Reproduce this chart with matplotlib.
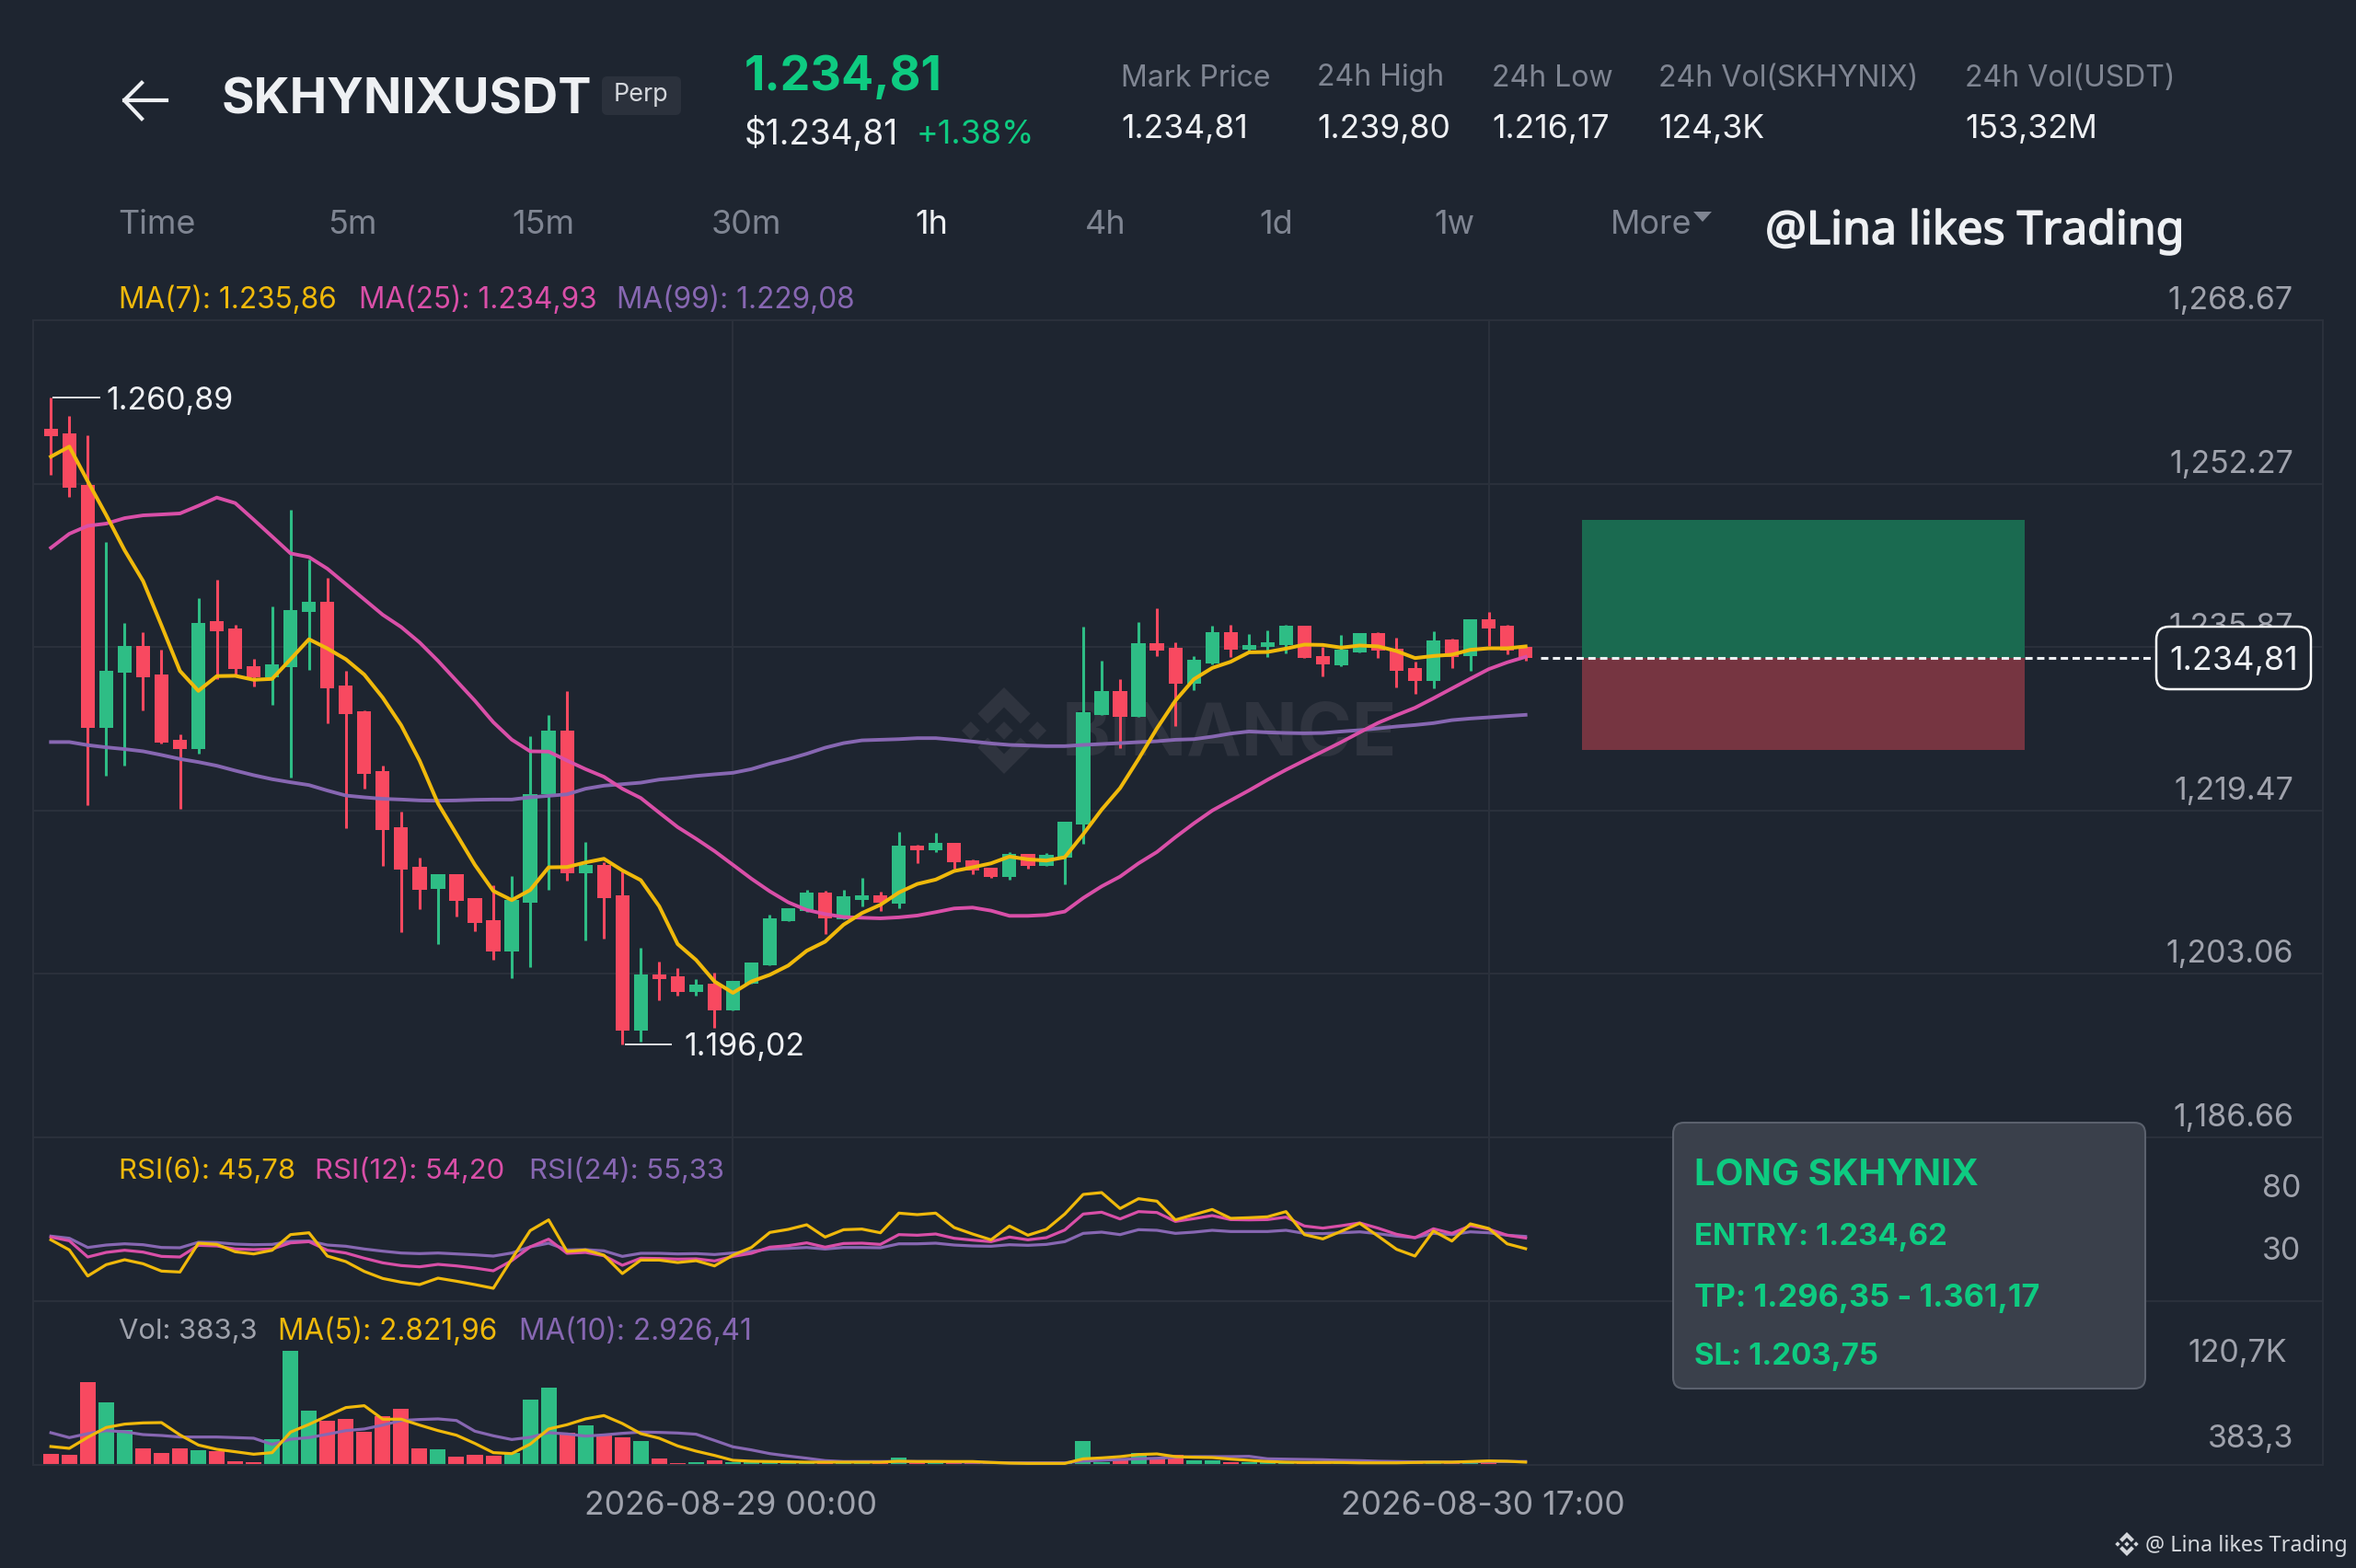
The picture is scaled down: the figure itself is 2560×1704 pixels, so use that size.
#!/usr/bin/env python

import numpy as np
import matplotlib
matplotlib.use('Agg')
import matplotlib.pyplot as plt
import matplotlib.patheffects as pe
from matplotlib.patches import FancyBboxPatch, Polygon, Rectangle

# ========================Candles==============================
opens = [1257.79,1257.33,1252.18,1227.78,1233.30,1236.01,1233.11,1226.52,1225.66,1238.47,
         1237.76,1233.98,1232.80,1233.88,1239.37,1240.44,1232.03,1229.39,1223.38,1217.77,
         1213.79,1211.57,1213.05,1210.71,1208.46,1205.35,1210.19,1221.09,1227.53,1213.15,
         1214.01,1210.96,1197.37,1202.98,1202.86,1201.29,1202.05,1199.44,1202.09,1203.90,
         1208.40,1209.38,1211.23,1208.58,1210.52,1210.95,1210.15,1215.91,1215.48,1216.22,
         1214.50,1213.70,1212.80,1215.14,1213.88,1214.77,1218.07,1229.04,1231.50,1228.85,
         1236.25,1235.82,1232.24,1234.24,1237.36,1235.60,1235.85,1236.06,1238.03,1235.01,
         1234.06,1235.35,1237.29,1235.75,1233.78,1232.46,1236.59,1234.95,1238.68,1238.03,1235.88]
highs = [1260.89,1259.08,1257.17,1246.42,1238.26,1237.33,1235.58,1227.14,1240.75,1242.66,
         1238.10,1234.65,1239.95,1249.69,1244.67,1242.85,1233.48,1229.48,1224.02,1219.37,
         1214.75,1213.05,1213.05,1210.71,1212.01,1212.93,1226.89,1229.07,1231.48,1216.29,
         1214.32,1213.39,1205.69,1204.30,1203.69,1202.52,1203.16,1202.36,1204.21,1208.98,
         1209.69,1211.54,1211.39,1211.51,1212.68,1211.32,1217.30,1216.07,1217.21,1216.22,
         1214.56,1213.73,1215.33,1215.14,1215.17,1218.35,1237.97,1234.55,1232.70,1238.40,
         1239.79,1236.31,1234.95,1238.00,1238.13,1237.17,1237.60,1238.09,1238.03,1235.88,
         1237.11,1237.29,1237.39,1236.80,1234.37,1237.42,1236.71,1238.71,1239.36,1238.09,1235.88]
lows = [1253.14,1250.92,1220.02,1222.92,1224.02,1229.48,1226.15,1219.62,1225.13,1232.62,
        1233.11,1231.94,1230.03,1222.79,1233.61,1228.25,1217.71,1221.62,1213.89,1207.23,
        1209.54,1206.06,1208.86,1207.38,1204.46,1202.67,1203.75,1211.54,1212.41,1206.43,
        1206.61,1196.02,1196.30,1200.39,1200.88,1200.91,1197.68,1199.44,1202.09,1203.90,
        1208.40,1209.32,1207.04,1208.58,1209.88,1209.35,1209.66,1214.19,1215.33,1213.63,
        1213.11,1212.71,1212.53,1213.67,1213.88,1212.06,1216.16,1229.04,1225.77,1228.85,
        1234.98,1227.99,1231.59,1234.12,1234.89,1235.41,1234.89,1235.20,1234.77,1232.95,
        1233.97,1235.35,1234.74,1231.81,1231.19,1231.69,1233.81,1233.50,1236.00,1235.11,1234.49]
closes = [1257.05,1251.91,1227.75,1233.48,1235.95,1232.87,1226.27,1225.66,1238.32,1237.49,
          1233.67,1232.80,1234.13,1239.61,1240.44,1231.76,1229.11,1223.13,1217.49,1213.55,
          1211.54,1213.05,1210.40,1208.19,1205.35,1210.47,1221.09,1227.53,1213.15,1214.01,
          1210.71,1197.37,1203.01,1202.58,1201.29,1202.02,1199.41,1202.36,1204.21,1208.67,
          1209.69,1211.23,1208.67,1210.86,1210.95,1210.21,1215.91,1215.48,1216.22,1214.25,
          1213.45,1212.77,1215.14,1213.88,1215.05,1218.35,1229.32,1231.50,1228.85,1236.25,
          1235.54,1232.24,1234.58,1237.36,1235.63,1236.09,1236.34,1238.03,1234.77,1234.15,
          1235.63,1237.29,1235.54,1233.47,1232.43,1236.55,1234.89,1238.71,1237.76,1235.51,1234.81]

ma7 = [1254.99,1256.00,1252.52,1249.13,1245.59,1242.51,1238.04,1233.48,1231.48,1232.96,
       1232.99,1232.59,1232.68,1234.65,1236.66,1235.73,1234.65,1233.11,1230.80,1228.03,
       1224.48,1220.17,1217.09,1214.01,1211.39,1210.47,1211.48,1213.76,1213.79,1214.25,
       1214.62,1213.45,1212.47,1209.85,1206.06,1204.46,1202.30,1201.16,1202.30,1202.97,
       1203.90,1205.38,1206.30,1208.00,1209.17,1210.00,1211.23,1212.09,1212.53,1213.39,
       1213.76,1214.16,1214.84,1214.56,1214.44,1214.77,1217.08,1219.55,1221.71,1224.63,
       1227.71,1230.49,1232.64,1233.78,1234.40,1235.35,1235.38,1235.72,1236.12,1236.09,
       1235.82,1236.03,1235.94,1235.48,1234.77,1234.98,1235.11,1235.60,1235.75,1235.75,1235.94]
ma25 = [1245.84,1247.25,1248.05,1248.27,1248.82,1249.10,1249.19,1249.29,1250.06,1250.89,
        1250.33,1248.67,1246.98,1245.28,1244.91,1243.74,1242.20,1240.66,1239.12,1237.89,
        1236.34,1234.49,1232.49,1230.49,1228.33,1226.58,1225.41,1225.38,1224.48,1223.62,
        1222.85,1221.65,1220.72,1219.25,1217.80,1216.63,1215.39,1214.01,1212.62,1211.35,
        1210.25,1209.48,1209.07,1208.77,1208.70,1208.64,1208.74,1208.92,1209.26,1209.63,
        1209.72,1209.41,1208.89,1208.89,1208.98,1209.32,1210.68,1211.85,1212.83,1214.16,
        1215.30,1216.78,1218.17,1219.46,1220.48,1221.49,1222.55,1223.55,1224.48,1225.40,
        1226.33,1227.31,1228.27,1229.04,1229.78,1230.73,1231.72,1232.70,1233.66,1234.34,1234.89]
ma99 = [1226.34,1226.34,1226.03,1225.81,1225.63,1225.41,1225.04,1224.64,1224.33,1223.96,
        1223.47,1223.01,1222.61,1222.30,1222.02,1221.47,1220.97,1220.79,1220.64,1220.57,
        1220.48,1220.45,1220.48,1220.54,1220.57,1220.57,1220.79,1220.94,1221.09,1221.65,
        1221.96,1222.11,1222.26,1222.57,1222.73,1222.94,1223.10,1223.25,1223.62,1224.17,
        1224.63,1225.16,1225.77,1226.23,1226.51,1226.57,1226.63,1226.73,1226.73,1226.57,
        1226.39,1226.20,1226.05,1225.99,1225.93,1225.93,1226.05,1226.14,1226.23,1226.33,
        1226.42,1226.57,1226.63,1226.88,1227.19,1227.40,1227.31,1227.25,1227.22,1227.25,
        1227.40,1227.53,1227.71,1227.90,1228.05,1228.24,1228.54,1228.70,1228.82,1228.95,1229.07]

# ========================RSI==============================
rsi6 = [56.22,48.13,27.30,36.37,40.29,37.10,31.22,30.48,53.52,52.54,
        46.66,44.94,47.88,60.38,61.85,43.23,38.82,30.97,25.33,22.39,
        20.43,25.58,23.13,20.43,17.49,40.78,63.57,72.15,46.90,48.13,
        43.96,29.26,40.04,40.04,38.08,39.55,35.38,43.96,50.09,62.10,
        64.55,68.23,58.42,64.31,64.80,61.85,77.54,76.32,77.54,66.02,
        60.87,56.22,67.25,59.90,64.55,76.81,92.49,93.96,81.22,89.06,
        87.10,72.15,76.32,80.48,73.38,73.87,74.60,78.77,60.38,56.95,
        63.08,69.45,59.16,48.62,43.23,63.33,55.24,68.96,65.29,53.03,49.11]
rsi12 = [58.42,55.48,42.49,46.17,47.89,46.41,42.98,42.49,51.81,51.32,
         48.86,48.38,48.86,53.77,54.75,47.89,45.68,41.51,37.83,35.63,
         34.65,36.61,35.38,33.67,31.46,39.55,50.58,56.71,45.43,46.17,
         43.47,35.88,41.51,41.27,40.78,41.02,39.31,42.98,45.43,50.34,
         51.56,53.77,50.34,53.28,53.52,52.54,60.38,59.89,60.87,57.44,
         55.97,54.75,58.42,56.22,57.93,64.06,76.81,78.28,72.88,78.77,
         78.03,70.92,73.13,75.58,72.39,72.15,72.39,74.35,67.25,65.53,
         67.49,69.70,65.53,60.63,57.93,65.04,61.37,67.49,64.80,59.89,57.69]
rsi24 = [59.16,57.44,50.09,52.05,53.03,52.30,50.09,49.85,54.26,54.01,
         52.79,52.30,52.54,54.99,55.24,52.05,51.07,48.87,47.15,45.68,
         45.19,45.68,44.94,44.21,43.23,45.68,50.58,53.52,48.13,48.38,
         47.40,42.98,45.43,45.43,44.94,45.19,44.45,45.68,46.90,48.87,
         49.36,50.09,48.87,50.09,50.09,49.85,53.03,53.03,53.52,52.05,
         51.32,51.07,52.30,51.81,52.54,54.75,61.37,62.35,60.38,64.31,
         63.82,61.37,62.35,63.82,62.84,62.84,62.84,63.82,61.37,61.12,
         61.86,62.59,61.12,59.16,57.93,61.37,60.38,62.59,61.86,59.89,58.91]

# ========================Volume (thousands)==============================
volume = [14.2,13.4,109.3,82.9,46.7,22.4,16.3,22.0,19.9,18.3,
          4.5,3.7,34.6,151.6,72.4,58.5,61.0,43.5,65.0,74.8,
          22.0,21.1,10.6,13.0,12.2,15.9,86.6,102.4,42.7,52.0,
          39.4,36.6,31.7,8.9,2.8,3.3,6.1,3.3,3.3,3.3,
          3.3,2.8,2.8,3.3,2.8,2.4,9.8,2.8,2.8,2.8,
          2.4,2.0,1.6,1.6,1.6,2.0,31.3,4.1,6.1,16.3,
          10.2,13.8,5.7,5.7,3.3,3.7,3.3,2.8,2.8,2.8,
          2.8,2.8,2.4,2.4,2.4,4.1,3.3,4.5,3.3,1.6,0.38]
vol_ma5 = [24.4,22.0,36.6,49.6,54.1,55.7,56.1,39.8,26.4,20.7,
           17.5,14.2,16.3,43.5,53.7,65.0,76.0,78.5,60.6,60.6,
           52.8,45.5,39.4,28.5,16.3,15.0,27.6,47.6,53.3,61.0,
           65.4,54.9,41.5,35.4,25.2,18.3,12.6,6.1,4.9,4.5,
           4.1,3.7,3.7,3.7,3.7,3.7,4.9,4.5,4.5,4.5,
           4.5,3.3,2.4,2.0,2.0,2.0,8.1,9.3,11.0,13.8,
           14.6,11.0,10.2,9.8,7.7,6.1,4.5,3.7,3.3,3.3,
           3.3,2.8,2.8,2.8,3.3,3.7,3.7,4.5,5.3,4.9,3.7]
vol_ma10 = [42.7,36.2,41.5,45.5,43.9,40.2,39.0,37.0,37.0,37.0,
            36.2,35.4,27.2,34.1,36.2,40.7,45.5,47.6,52.8,58.9,
            60.2,61.0,58.9,44.7,38.6,33.7,36.6,42.7,41.1,38.2,
            39.8,41.9,43.5,43.1,42.3,40.7,32.5,24.0,19.9,15.0,
            11.8,8.9,5.7,4.5,4.5,4.5,4.5,4.5,4.5,4.1,
            3.7,3.3,2.8,2.8,2.8,2.8,5.3,6.1,7.3,8.1,
            8.9,10.2,11.0,11.0,11.0,11.4,8.1,7.7,7.3,6.9,
            6.1,5.7,4.9,4.5,4.1,4.1,3.7,4.1,4.5,4.5,4.5]

# ========================Labels and levels==============================
price_ticks = [1268.67, 1252.27, 1235.87, 1219.47, 1203.06, 1186.66]
price_labels = ['1,268.67', '1,252.27', '1,235.87', '1,219.47', '1,203.06', '1,186.66']
rsi_ticks = [80, 30]
vol_ticks = [120.7, 0.3833]
vol_labels = ['120,7K', '383,3']
last_price = 1234.81
high_price = 1260.89
low_price = 1196.02
tp_zone = 1248.67
sl_zone = 1225.56
date_idx = [37, 78]
date_labels = ['2026-08-29 00:00', '2026-08-30 17:00']
tabs = ['Time', '5m', '15m', '30m', '1h', '4h', '1d', '1w', 'More']
tab_x = [128, 356, 556, 773, 994, 1179, 1368, 1558, 1750]
stat_names = ['Mark Price', '24h High', '24h Low', '24h Vol(SKHYNIX)', '24h Vol(USDT)']
stat_values = ['1.234,81', '1.239,80', '1.216,17', '124,3K', '153,32M']
stat_x = [1218, 1431, 1621, 1802, 2135]

# ========================Colours==============================
BG = '#1e2530'
GRID = '#2a303b'
UP = '#2ebd85'
DOWN = '#f84960'
BRIGHT = '#0ecb81'
YELLOW = '#f0b90b'
PINK = '#d94fa8'
PURPLE = '#8767b2'
GRAY = '#7f8592'
AXIS_TEXT = '#a0a3ad'
WHITE = '#eef0f3'

plt.rcParams['font.family'] = ['Inter', 'DejaVu Sans']

W, H = 2560, 1704
fig = plt.figure(figsize=(W/100, H/100), dpi=100, facecolor=BG)


def px_axes(x0, y0, x1, y1, zorder):
    """axes placed with pixel edges, y measured from the top"""
    ax = fig.add_axes([x0/W, 1-y1/H, (x1-x0)/W, (y1-y0)/H], zorder=zorder)
    ax.patch.set_alpha(0)
    return ax


def ui_layer(zorder):
    ax = px_axes(0, 0, W, H, zorder)
    ax.set_xlim(0, W)
    ax.set_ylim(H, 0)
    ax.axis('off')
    return ax


def ui_text(ax, x, y, s, size, color=WHITE, ha='left', weight='normal', family=None):
    kw = {'family': family} if family else {}
    # va center sits a little high because of the descender, so move it down
    return ax.text(x, y+3, s, fontsize=size*0.72, color=color, ha=ha, va='center', weight=weight, **kw)


def binance_logo(ax, cx, cy, r, color):
    """the four sided logo, r is half of its height"""
    chevron = [(0, 1), (0.61, 0.39), (0.38, 0.16), (0, 0.54), (-0.38, 0.16), (-0.61, 0.39)]
    diamond = [(0, 0.21), (0.21, 0), (0, -0.21), (-0.21, 0)]
    for sign in [1, -1]:
        ax.add_patch(Polygon([(cx+a*r, cy-sign*b*r) for a, b in chevron], color=color, lw=0))
        ax.add_patch(Polygon([(cx+sign*0.77*r+a*r, cy+b*r) for a, b in diamond], color=color, lw=0))
    ax.add_patch(Polygon([(cx+a*r, cy+b*r) for a, b in diamond], color=color, lw=0))


def style_pane(ax):
    ax.set_xlim(-0.9636, 123.25)
    for side in ax.spines:
        ax.spines[side].set_color(GRID)
        ax.spines[side].set_linewidth(1.5)
    ax.spines['top'].set_visible(False)
    ax.tick_params(left=False, bottom=False, labelleft=False, labelbottom=False)
    ax.set_xticks(date_idx)
    ax.grid(True, color=GRID, lw=1.5)
    ax.set_axisbelow(True)


def axis_label(ax, value, s, right_gap, up):
    ax.annotate(s, xy=(1, value), xycoords=ax.get_yaxis_transform(), xytext=(-right_gap, up),
                textcoords='offset pixels', ha='right', va='center',
                fontsize=34*0.72, color=AXIS_TEXT, annotation_clip=False)


#----------------------------------------------------------------------------#
#                                 Background
#----------------------------------------------------------------------------#
ax_bg = ui_layer(0)
binance_logo(ax_bg, 1091, 794, 47, '#2f343f')
ax_bg.text(1154, 800, 'BINANCE', fontsize=80*0.72, weight='bold', color='#2f343f', va='center')

#----------------------------------------------------------------------------#
#                                 Price pane
#----------------------------------------------------------------------------#
idx = np.arange(len(closes))
o, h, l, c = map(np.array, (opens, highs, lows, closes))
colors = [UP if b >= a else DOWN for a, b in zip(opens, closes)]

ax_p = px_axes(36, 348, 2524, 1236, 2)
style_pane(ax_p)
ax_p.set_ylim(1186.65, 1268.69)
ax_p.set_yticks(price_ticks[1:-1])
ax_p.spines['top'].set_visible(True)

ax_p.add_patch(Rectangle((83.06, last_price), 24.0, tp_zone-last_price, color='#1a6a50', lw=0, zorder=1))
ax_p.add_patch(Rectangle((83.06, sl_zone), 24.0, last_price-sl_zone, color='#763541', lw=0, zorder=1))

ax_p.vlines(idx, l, h, colors=colors, lw=2.2, zorder=3)
ax_p.bar(idx, np.abs(c-o), bottom=np.minimum(c, o), width=0.76, color=colors, zorder=3)
ax_p.plot(idx, ma99, color=PURPLE, lw=2.8, zorder=4)
ax_p.plot(idx, ma25, color=PINK, lw=2.8, zorder=5)
ax_p.plot(idx, ma7, color=YELLOW, lw=2.9, zorder=6)

ax_p.hlines(high_price, 0.07, 2.68, color=WHITE, lw=1.3, zorder=7)
ax_p.text(3.0, high_price-0.3, '1.260,89', color=WHITE, fontsize=34*0.72, va='center', zorder=7)
ax_p.hlines(low_price, 31.12, 33.7, color=WHITE, lw=1.3, zorder=7)
ax_p.text(34.38, low_price-0.3, '1.196,02', color=WHITE, fontsize=34*0.72, va='center', zorder=7)

ax_p.plot([80.8, 113.95], [last_price, last_price], color=WHITE, lw=2.2,
          dashes=(2.6, 1.6), zorder=7, dash_capstyle='butt')

for tick, label in zip(price_ticks, price_labels):
    axis_label(ax_p, tick, label, 32, 21)

#----------------------------------------------------------------------------#
#                                 RSI pane
#----------------------------------------------------------------------------#
ax_r = px_axes(36, 1236, 2524, 1414, 2)
style_pane(ax_r)
ax_r.set_ylim(7.21, 138.09)
ax_r.set_yticks([])
ax_r.plot(idx, rsi24, color=PURPLE, lw=2.3)
ax_r.plot(idx, rsi12, color=PINK, lw=2.3)
ax_r.plot(idx, rsi6, color=YELLOW, lw=2.3)
for tick in rsi_ticks:
    axis_label(ax_r, tick, str(tick), 24, 23)

#----------------------------------------------------------------------------#
#                                 Volume pane
#----------------------------------------------------------------------------#
ax_v = px_axes(36, 1414, 2524, 1592, 2)
style_pane(ax_v)
ax_v.set_ylim(0, 217)
ax_v.set_yticks([])
ax_v.bar(idx, volume, width=0.85, color=colors, zorder=2)
ax_v.plot(idx, vol_ma10, color=PURPLE, lw=2.3, zorder=3)
ax_v.plot(idx, vol_ma5, color=YELLOW, lw=2.3, zorder=4)
axis_label(ax_v, vol_ticks[0], vol_labels[0], 39, 22)
axis_label(ax_v, vol_ticks[1], vol_labels[1], 32, 28)

for i, label, shift in zip(date_idx, date_labels, [-2, -6]):
    ax_v.annotate(label, xy=(i, 0), xycoords=ax_v.get_xaxis_transform(), xytext=(shift, -44),
                  textcoords='offset pixels', ha='center', va='center',
                  fontsize=35.5*0.72, color=AXIS_TEXT, annotation_clip=False)

#----------------------------------------------------------------------------#
#                                 Header and overlays
#----------------------------------------------------------------------------#
ax_t = ui_layer(5)

ax_t.plot([135, 181], [109, 109], color=WHITE, lw=3)
ax_t.plot([154, 135, 154], [90, 109, 129], color=WHITE, lw=3)
ui_text(ax_t, 241, 107, 'SKHYNIXUSDT', 54.3, weight='bold')
ax_t.add_patch(FancyBboxPatch((654, 83), 86, 42, boxstyle='round,pad=0,rounding_size=6', fc='#2b313c', ec='none'))
ui_text(ax_t, 696, 100, 'Perp', 27, color='#d4d7dc', ha='center')
ui_text(ax_t, 809, 82, '1.234,81', 52, color=BRIGHT, weight='bold')
ui_text(ax_t, 809, 143, '$1.234,81', 37)
ui_text(ax_t, 996, 143, '+1.38%', 36, color=BRIGHT)

for x, name, value in zip(stat_x, stat_names, stat_values):
    ui_text(ax_t, x, 82, name, 32, color=GRAY)
    ui_text(ax_t, x, 137, value, 35.5)

for x, tab in zip(tab_x, tabs):
    ui_text(ax_t, x, 242, tab, 36, color=WHITE if tab == '1h' else GRAY)
ax_t.add_patch(Polygon([(1840, 230), (1860, 230), (1850, 241)], color=GRAY, lw=0))
brand = ui_text(ax_t, 1918, 249, '@Lina likes Trading', 50, family='Noto Sans')
brand.set_path_effects([pe.withStroke(linewidth=1.2, foreground=WHITE)])

ui_text(ax_t, 129, 323, 'MA(7): 1.235,86', 31.5, color=YELLOW)
ui_text(ax_t, 390, 323, 'MA(25): 1.234,93', 31.5, color=PINK)
ui_text(ax_t, 670, 323, 'MA(99): 1.229,08', 31.5, color=PURPLE)
ui_text(ax_t, 129, 1270, 'RSI(6): 45,78', 31, color=YELLOW)
ui_text(ax_t, 342, 1270, 'RSI(12): 54,20', 31, color=PINK)
ui_text(ax_t, 575, 1270, 'RSI(24): 55,33', 31, color=PURPLE)
ui_text(ax_t, 129, 1444, 'Vol: 383,3', 31, color=AXIS_TEXT)
ui_text(ax_t, 302, 1444, 'MA(5): 2.821,96', 31.5, color=YELLOW)
ui_text(ax_t, 564, 1444, 'MA(10): 2.926,41', 31.5, color=PURPLE)

# current price tag
ax_t.add_patch(FancyBboxPatch((2343, 681), 168, 68, boxstyle='round,pad=0,rounding_size=14',
                              fc=BG, ec='#ffffff', lw=1.8))
ui_text(ax_t, 2427, 716, '1.234,81', 36, ha='center')

# trade box
ax_t.add_patch(FancyBboxPatch((1818, 1220), 513, 289, boxstyle='round,pad=0,rounding_size=12',
                              fc='#3a404b', ec='#5b616d', lw=1.5))
ui_text(ax_t, 1841, 1275, 'LONG SKHYNIX', 40, color=BRIGHT, weight='bold')
ui_text(ax_t, 1841, 1342, 'ENTRY: 1.234,62', 33, color=BRIGHT, weight='bold')
ui_text(ax_t, 1841, 1408, 'TP: 1.296,35 - 1.361,17', 34.2, color=BRIGHT, weight='bold')
ui_text(ax_t, 1841, 1471, 'SL: 1.203,75', 33, color=BRIGHT, weight='bold')

# footer mark
binance_logo(ax_t, 2311, 1678, 13, '#d4d7dc')
ui_text(ax_t, 2331, 1677, '@ Lina likes Trading', 23.5, color='#d4d7dc', family='Noto Sans')

fig.savefig('out.png', dpi=100, facecolor=BG)
